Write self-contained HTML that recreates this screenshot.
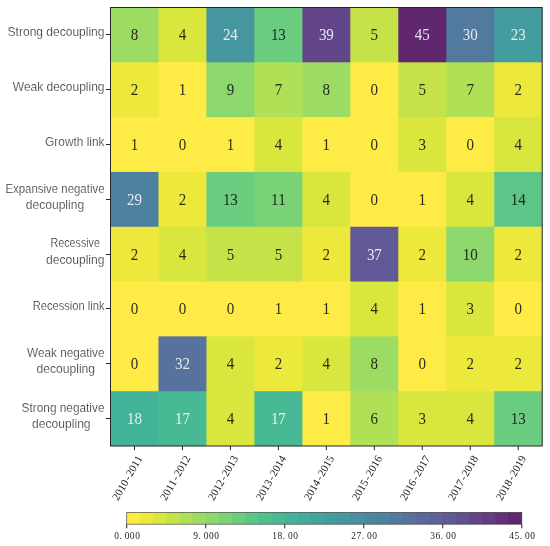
<!DOCTYPE html><html><head><meta charset="utf-8"><title>Heatmap</title><style>html,body{margin:0;padding:0;background:#fff}svg{display:block}.n{font-family:"Liberation Serif",serif;font-size:16.5px;fill-opacity:.9}.t{font-family:"Liberation Serif",serif;font-size:11px;fill:#222}.y{font-family:"Liberation Sans",sans-serif;font-size:13px;fill:#2b2b2b;stroke:#fff;stroke-width:.24px}</style></head><body>
<svg width="550" height="546" viewBox="0 0 550 546">
<rect width="550" height="546" fill="#fff"/>
<g>
<rect x="110.50" y="7.50" width="48.97" height="55.81" fill="#9cdc62"/>
<rect x="158.47" y="7.50" width="48.97" height="55.81" fill="#d9e63d"/>
<rect x="206.43" y="7.50" width="48.97" height="55.81" fill="#46969f"/>
<rect x="254.40" y="7.50" width="48.97" height="55.81" fill="#6acd80"/>
<rect x="302.37" y="7.50" width="48.97" height="55.81" fill="#63468a"/>
<rect x="350.33" y="7.50" width="48.97" height="55.81" fill="#c5e348"/>
<rect x="398.30" y="7.50" width="48.97" height="55.81" fill="#60276e"/>
<rect x="446.27" y="7.50" width="48.97" height="55.81" fill="#52799e"/>
<rect x="494.23" y="7.50" width="47.97" height="55.81" fill="#439d9e"/>
<rect x="110.50" y="62.31" width="48.97" height="55.81" fill="#ede83c"/>
<rect x="158.47" y="62.31" width="48.97" height="55.81" fill="#feeb45"/>
<rect x="206.43" y="62.31" width="48.97" height="55.81" fill="#8cd86c"/>
<rect x="254.40" y="62.31" width="48.97" height="55.81" fill="#b0e055"/>
<rect x="302.37" y="62.31" width="48.97" height="55.81" fill="#9cdc62"/>
<rect x="350.33" y="62.31" width="48.97" height="55.81" fill="#feeb45"/>
<rect x="398.30" y="62.31" width="48.97" height="55.81" fill="#c5e348"/>
<rect x="446.27" y="62.31" width="48.97" height="55.81" fill="#b0e055"/>
<rect x="494.23" y="62.31" width="47.97" height="55.81" fill="#ede83c"/>
<rect x="110.50" y="117.12" width="48.97" height="55.81" fill="#feeb45"/>
<rect x="158.47" y="117.12" width="48.97" height="55.81" fill="#feeb45"/>
<rect x="206.43" y="117.12" width="48.97" height="55.81" fill="#feeb45"/>
<rect x="254.40" y="117.12" width="48.97" height="55.81" fill="#d9e63d"/>
<rect x="302.37" y="117.12" width="48.97" height="55.81" fill="#feeb45"/>
<rect x="350.33" y="117.12" width="48.97" height="55.81" fill="#feeb45"/>
<rect x="398.30" y="117.12" width="48.97" height="55.81" fill="#d9e63d"/>
<rect x="446.27" y="117.12" width="48.97" height="55.81" fill="#feeb45"/>
<rect x="494.23" y="117.12" width="47.97" height="55.81" fill="#d9e63d"/>
<rect x="110.50" y="171.94" width="48.97" height="55.81" fill="#4e819f"/>
<rect x="158.47" y="171.94" width="48.97" height="55.81" fill="#ede83c"/>
<rect x="206.43" y="171.94" width="48.97" height="55.81" fill="#6acd80"/>
<rect x="254.40" y="171.94" width="48.97" height="55.81" fill="#7ad277"/>
<rect x="302.37" y="171.94" width="48.97" height="55.81" fill="#d9e63d"/>
<rect x="350.33" y="171.94" width="48.97" height="55.81" fill="#feeb45"/>
<rect x="398.30" y="171.94" width="48.97" height="55.81" fill="#feeb45"/>
<rect x="446.27" y="171.94" width="48.97" height="55.81" fill="#d9e63d"/>
<rect x="494.23" y="171.94" width="47.97" height="55.81" fill="#5cc688"/>
<rect x="110.50" y="226.75" width="48.97" height="55.81" fill="#ede83c"/>
<rect x="158.47" y="226.75" width="48.97" height="55.81" fill="#d9e63d"/>
<rect x="206.43" y="226.75" width="48.97" height="55.81" fill="#c5e348"/>
<rect x="254.40" y="226.75" width="48.97" height="55.81" fill="#c5e348"/>
<rect x="302.37" y="226.75" width="48.97" height="55.81" fill="#ede83c"/>
<rect x="350.33" y="226.75" width="48.97" height="55.81" fill="#605996"/>
<rect x="398.30" y="226.75" width="48.97" height="55.81" fill="#ede83c"/>
<rect x="446.27" y="226.75" width="48.97" height="55.81" fill="#8cd86c"/>
<rect x="494.23" y="226.75" width="47.97" height="55.81" fill="#ede83c"/>
<rect x="110.50" y="281.56" width="48.97" height="55.81" fill="#feeb45"/>
<rect x="158.47" y="281.56" width="48.97" height="55.81" fill="#feeb45"/>
<rect x="206.43" y="281.56" width="48.97" height="55.81" fill="#feeb45"/>
<rect x="254.40" y="281.56" width="48.97" height="55.81" fill="#feeb45"/>
<rect x="302.37" y="281.56" width="48.97" height="55.81" fill="#feeb45"/>
<rect x="350.33" y="281.56" width="48.97" height="55.81" fill="#d9e63d"/>
<rect x="398.30" y="281.56" width="48.97" height="55.81" fill="#feeb45"/>
<rect x="446.27" y="281.56" width="48.97" height="55.81" fill="#d9e63d"/>
<rect x="494.23" y="281.56" width="47.97" height="55.81" fill="#feeb45"/>
<rect x="110.50" y="336.38" width="48.97" height="55.81" fill="#feeb45"/>
<rect x="158.47" y="336.38" width="48.97" height="55.81" fill="#56729d"/>
<rect x="206.43" y="336.38" width="48.97" height="55.81" fill="#d9e63d"/>
<rect x="254.40" y="336.38" width="48.97" height="55.81" fill="#ede83c"/>
<rect x="302.37" y="336.38" width="48.97" height="55.81" fill="#d9e63d"/>
<rect x="350.33" y="336.38" width="48.97" height="55.81" fill="#9cdc62"/>
<rect x="398.30" y="336.38" width="48.97" height="55.81" fill="#feeb45"/>
<rect x="446.27" y="336.38" width="48.97" height="55.81" fill="#ede83c"/>
<rect x="494.23" y="336.38" width="47.97" height="55.81" fill="#ede83c"/>
<rect x="110.50" y="391.19" width="48.97" height="54.81" fill="#42b398"/>
<rect x="158.47" y="391.19" width="48.97" height="54.81" fill="#47b994"/>
<rect x="206.43" y="391.19" width="48.97" height="54.81" fill="#d9e63d"/>
<rect x="254.40" y="391.19" width="48.97" height="54.81" fill="#47b994"/>
<rect x="302.37" y="391.19" width="48.97" height="54.81" fill="#feeb45"/>
<rect x="350.33" y="391.19" width="48.97" height="54.81" fill="#b0e055"/>
<rect x="398.30" y="391.19" width="48.97" height="54.81" fill="#d9e63d"/>
<rect x="446.27" y="391.19" width="48.97" height="54.81" fill="#d9e63d"/>
<rect x="494.23" y="391.19" width="47.97" height="54.81" fill="#6acd80"/>
</g>
<rect x="110.50" y="7.50" width="431.70" height="438.50" fill="none" stroke="#262626" stroke-width="1"/>
<text class="n" transform="translate(134.18,40) scale(0.91,1)" x="-3.79" y="0" fill="#141414">8</text>
<text class="n" transform="translate(182.15,40) scale(0.91,1)" x="-3.79" y="0" fill="#141414">4</text>
<text class="n" transform="translate(230.12,40) scale(0.91,1)" x="-7.86 0.27" y="0" fill="#f4f7fa">24</text>
<text class="n" transform="translate(278.08,40) scale(0.91,1)" x="-7.86 0.27" y="0" fill="#141414">13</text>
<text class="n" transform="translate(326.05,40) scale(0.91,1)" x="-7.86 0.27" y="0" fill="#f4f7fa">39</text>
<text class="n" transform="translate(374.02,40) scale(0.91,1)" x="-3.79" y="0" fill="#141414">5</text>
<text class="n" transform="translate(421.98,40) scale(0.91,1)" x="-7.86 0.27" y="0" fill="#f4f7fa">45</text>
<text class="n" transform="translate(469.95,40) scale(0.91,1)" x="-7.86 0.27" y="0" fill="#f4f7fa">30</text>
<text class="n" transform="translate(517.92,40) scale(0.91,1)" x="-7.86 0.27" y="0" fill="#f4f7fa">23</text>
<text class="n" transform="translate(134.18,95) scale(0.91,1)" x="-3.79" y="0" fill="#141414">2</text>
<text class="n" transform="translate(182.15,95) scale(0.91,1)" x="-3.79" y="0" fill="#141414">1</text>
<text class="n" transform="translate(230.12,95) scale(0.91,1)" x="-3.79" y="0" fill="#141414">9</text>
<text class="n" transform="translate(278.08,95) scale(0.91,1)" x="-3.79" y="0" fill="#141414">7</text>
<text class="n" transform="translate(326.05,95) scale(0.91,1)" x="-3.79" y="0" fill="#141414">8</text>
<text class="n" transform="translate(374.02,95) scale(0.91,1)" x="-3.79" y="0" fill="#141414">0</text>
<text class="n" transform="translate(421.98,95) scale(0.91,1)" x="-3.79" y="0" fill="#141414">5</text>
<text class="n" transform="translate(469.95,95) scale(0.91,1)" x="-3.79" y="0" fill="#141414">7</text>
<text class="n" transform="translate(517.92,95) scale(0.91,1)" x="-3.79" y="0" fill="#141414">2</text>
<text class="n" transform="translate(134.18,150) scale(0.91,1)" x="-3.79" y="0" fill="#141414">1</text>
<text class="n" transform="translate(182.15,150) scale(0.91,1)" x="-3.79" y="0" fill="#141414">0</text>
<text class="n" transform="translate(230.12,150) scale(0.91,1)" x="-3.79" y="0" fill="#141414">1</text>
<text class="n" transform="translate(278.08,150) scale(0.91,1)" x="-3.79" y="0" fill="#141414">4</text>
<text class="n" transform="translate(326.05,150) scale(0.91,1)" x="-3.79" y="0" fill="#141414">1</text>
<text class="n" transform="translate(374.02,150) scale(0.91,1)" x="-3.79" y="0" fill="#141414">0</text>
<text class="n" transform="translate(421.98,150) scale(0.91,1)" x="-3.79" y="0" fill="#141414">3</text>
<text class="n" transform="translate(469.95,150) scale(0.91,1)" x="-3.79" y="0" fill="#141414">0</text>
<text class="n" transform="translate(517.92,150) scale(0.91,1)" x="-3.79" y="0" fill="#141414">4</text>
<text class="n" transform="translate(134.18,205) scale(0.91,1)" x="-7.86 0.27" y="0" fill="#f4f7fa">29</text>
<text class="n" transform="translate(182.15,205) scale(0.91,1)" x="-3.79" y="0" fill="#141414">2</text>
<text class="n" transform="translate(230.12,205) scale(0.91,1)" x="-7.86 0.27" y="0" fill="#141414">13</text>
<text class="n" transform="translate(278.08,205) scale(0.91,1)" x="-7.86 0.27" y="0" fill="#141414">11</text>
<text class="n" transform="translate(326.05,205) scale(0.91,1)" x="-3.79" y="0" fill="#141414">4</text>
<text class="n" transform="translate(374.02,205) scale(0.91,1)" x="-3.79" y="0" fill="#141414">0</text>
<text class="n" transform="translate(421.98,205) scale(0.91,1)" x="-3.79" y="0" fill="#141414">1</text>
<text class="n" transform="translate(469.95,205) scale(0.91,1)" x="-3.79" y="0" fill="#141414">4</text>
<text class="n" transform="translate(517.92,205) scale(0.91,1)" x="-7.86 0.27" y="0" fill="#141414">14</text>
<text class="n" transform="translate(134.18,260) scale(0.91,1)" x="-3.79" y="0" fill="#141414">2</text>
<text class="n" transform="translate(182.15,260) scale(0.91,1)" x="-3.79" y="0" fill="#141414">4</text>
<text class="n" transform="translate(230.12,260) scale(0.91,1)" x="-3.79" y="0" fill="#141414">5</text>
<text class="n" transform="translate(278.08,260) scale(0.91,1)" x="-3.79" y="0" fill="#141414">5</text>
<text class="n" transform="translate(326.05,260) scale(0.91,1)" x="-3.79" y="0" fill="#141414">2</text>
<text class="n" transform="translate(374.02,260) scale(0.91,1)" x="-7.86 0.27" y="0" fill="#f4f7fa">37</text>
<text class="n" transform="translate(421.98,260) scale(0.91,1)" x="-3.79" y="0" fill="#141414">2</text>
<text class="n" transform="translate(469.95,260) scale(0.91,1)" x="-7.86 0.27" y="0" fill="#141414">10</text>
<text class="n" transform="translate(517.92,260) scale(0.91,1)" x="-3.79" y="0" fill="#141414">2</text>
<text class="n" transform="translate(134.18,314) scale(0.91,1)" x="-3.79" y="0" fill="#141414">0</text>
<text class="n" transform="translate(182.15,314) scale(0.91,1)" x="-3.79" y="0" fill="#141414">0</text>
<text class="n" transform="translate(230.12,314) scale(0.91,1)" x="-3.79" y="0" fill="#141414">0</text>
<text class="n" transform="translate(278.08,314) scale(0.91,1)" x="-3.79" y="0" fill="#141414">1</text>
<text class="n" transform="translate(326.05,314) scale(0.91,1)" x="-3.79" y="0" fill="#141414">1</text>
<text class="n" transform="translate(374.02,314) scale(0.91,1)" x="-3.79" y="0" fill="#141414">4</text>
<text class="n" transform="translate(421.98,314) scale(0.91,1)" x="-3.79" y="0" fill="#141414">1</text>
<text class="n" transform="translate(469.95,314) scale(0.91,1)" x="-3.79" y="0" fill="#141414">3</text>
<text class="n" transform="translate(517.92,314) scale(0.91,1)" x="-3.79" y="0" fill="#141414">0</text>
<text class="n" transform="translate(134.18,369) scale(0.91,1)" x="-3.79" y="0" fill="#141414">0</text>
<text class="n" transform="translate(182.15,369) scale(0.91,1)" x="-7.86 0.27" y="0" fill="#f4f7fa">32</text>
<text class="n" transform="translate(230.12,369) scale(0.91,1)" x="-3.79" y="0" fill="#141414">4</text>
<text class="n" transform="translate(278.08,369) scale(0.91,1)" x="-3.79" y="0" fill="#141414">2</text>
<text class="n" transform="translate(326.05,369) scale(0.91,1)" x="-3.79" y="0" fill="#141414">4</text>
<text class="n" transform="translate(374.02,369) scale(0.91,1)" x="-3.79" y="0" fill="#141414">8</text>
<text class="n" transform="translate(421.98,369) scale(0.91,1)" x="-3.79" y="0" fill="#141414">0</text>
<text class="n" transform="translate(469.95,369) scale(0.91,1)" x="-3.79" y="0" fill="#141414">2</text>
<text class="n" transform="translate(517.92,369) scale(0.91,1)" x="-3.79" y="0" fill="#141414">2</text>
<text class="n" transform="translate(134.18,424) scale(0.91,1)" x="-7.86 0.27" y="0" fill="#f4f7fa">18</text>
<text class="n" transform="translate(182.15,424) scale(0.91,1)" x="-7.86 0.27" y="0" fill="#f4f7fa">17</text>
<text class="n" transform="translate(230.12,424) scale(0.91,1)" x="-3.79" y="0" fill="#141414">4</text>
<text class="n" transform="translate(278.08,424) scale(0.91,1)" x="-7.86 0.27" y="0" fill="#f4f7fa">17</text>
<text class="n" transform="translate(326.05,424) scale(0.91,1)" x="-3.79" y="0" fill="#141414">1</text>
<text class="n" transform="translate(374.02,424) scale(0.91,1)" x="-3.79" y="0" fill="#141414">6</text>
<text class="n" transform="translate(421.98,424) scale(0.91,1)" x="-3.79" y="0" fill="#141414">3</text>
<text class="n" transform="translate(469.95,424) scale(0.91,1)" x="-3.79" y="0" fill="#141414">4</text>
<text class="n" transform="translate(517.92,424) scale(0.91,1)" x="-7.86 0.27" y="0" fill="#141414">13</text>
<line x1="105.90" x2="110.50" y1="34.50" y2="34.50" stroke="#262626" stroke-width="1"/>
<text class="y" x="7.60" y="36.01" textLength="96.9" lengthAdjust="spacingAndGlyphs">Strong decoupling</text>
<line x1="105.90" x2="110.50" y1="89.50" y2="89.50" stroke="#262626" stroke-width="1"/>
<text class="y" x="12.80" y="90.82" textLength="91.7" lengthAdjust="spacingAndGlyphs">Weak decoupling</text>
<line x1="105.90" x2="110.50" y1="144.50" y2="144.50" stroke="#262626" stroke-width="1"/>
<text class="y" x="45.10" y="145.63" textLength="59.4" lengthAdjust="spacingAndGlyphs">Growth link</text>
<line x1="105.90" x2="110.50" y1="199.50" y2="199.50" stroke="#262626" stroke-width="1"/>
<text class="y" x="5.40" y="192.64" textLength="99.1" lengthAdjust="spacingAndGlyphs">Expansive negative</text>
<text class="y" x="25.70" y="209.04" textLength="58.5" lengthAdjust="spacingAndGlyphs">decoupling</text>
<line x1="105.90" x2="110.50" y1="254.50" y2="254.50" stroke="#262626" stroke-width="1"/>
<text class="y" x="50.60" y="247.46" textLength="49.3" lengthAdjust="spacingAndGlyphs">Recessive</text>
<text class="y" x="46.00" y="263.86" textLength="58.5" lengthAdjust="spacingAndGlyphs">decoupling</text>
<line x1="105.90" x2="110.50" y1="308.50" y2="308.50" stroke="#262626" stroke-width="1"/>
<text class="y" x="32.70" y="310.07" textLength="71.8" lengthAdjust="spacingAndGlyphs">Recession link</text>
<line x1="105.90" x2="110.50" y1="363.50" y2="363.50" stroke="#262626" stroke-width="1"/>
<text class="y" x="27.10" y="357.08" textLength="77.4" lengthAdjust="spacingAndGlyphs">Weak negative</text>
<text class="y" x="36.55" y="373.48" textLength="58.5" lengthAdjust="spacingAndGlyphs">decoupling</text>
<line x1="105.90" x2="110.50" y1="418.50" y2="418.50" stroke="#262626" stroke-width="1"/>
<text class="y" x="21.60" y="411.89" textLength="82.9" lengthAdjust="spacingAndGlyphs">Strong negative</text>
<text class="y" x="32.10" y="428.29" textLength="58.5" lengthAdjust="spacingAndGlyphs">decoupling</text>
<line x1="134.48" x2="134.48" y1="446.00" y2="450.20" stroke="#262626" stroke-width="1"/>
<text class="t" transform="translate(142.68,458.30) rotate(-60)" x="-49.50 -44.00 -38.50 -33.00 -26.60 -22.00 -16.50 -11.00 -5.50" y="0">2010-2011</text>
<line x1="182.45" x2="182.45" y1="446.00" y2="450.20" stroke="#262626" stroke-width="1"/>
<text class="t" transform="translate(190.65,458.30) rotate(-60)" x="-49.50 -44.00 -38.50 -33.00 -26.60 -22.00 -16.50 -11.00 -5.50" y="0">2011-2012</text>
<line x1="230.42" x2="230.42" y1="446.00" y2="450.20" stroke="#262626" stroke-width="1"/>
<text class="t" transform="translate(238.62,458.30) rotate(-60)" x="-49.50 -44.00 -38.50 -33.00 -26.60 -22.00 -16.50 -11.00 -5.50" y="0">2012-2013</text>
<line x1="278.38" x2="278.38" y1="446.00" y2="450.20" stroke="#262626" stroke-width="1"/>
<text class="t" transform="translate(286.58,458.30) rotate(-60)" x="-49.50 -44.00 -38.50 -33.00 -26.60 -22.00 -16.50 -11.00 -5.50" y="0">2013-2014</text>
<line x1="326.35" x2="326.35" y1="446.00" y2="450.20" stroke="#262626" stroke-width="1"/>
<text class="t" transform="translate(334.55,458.30) rotate(-60)" x="-49.50 -44.00 -38.50 -33.00 -26.60 -22.00 -16.50 -11.00 -5.50" y="0">2014-2015</text>
<line x1="374.32" x2="374.32" y1="446.00" y2="450.20" stroke="#262626" stroke-width="1"/>
<text class="t" transform="translate(382.52,458.30) rotate(-60)" x="-49.50 -44.00 -38.50 -33.00 -26.60 -22.00 -16.50 -11.00 -5.50" y="0">2015-2016</text>
<line x1="422.28" x2="422.28" y1="446.00" y2="450.20" stroke="#262626" stroke-width="1"/>
<text class="t" transform="translate(430.48,458.30) rotate(-60)" x="-49.50 -44.00 -38.50 -33.00 -26.60 -22.00 -16.50 -11.00 -5.50" y="0">2016-2017</text>
<line x1="470.25" x2="470.25" y1="446.00" y2="450.20" stroke="#262626" stroke-width="1"/>
<text class="t" transform="translate(478.45,458.30) rotate(-60)" x="-49.50 -44.00 -38.50 -33.00 -26.60 -22.00 -16.50 -11.00 -5.50" y="0">2017-2018</text>
<line x1="518.22" x2="518.22" y1="446.00" y2="450.20" stroke="#262626" stroke-width="1"/>
<text class="t" transform="translate(526.42,458.30) rotate(-60)" x="-49.50 -44.00 -38.50 -33.00 -26.60 -22.00 -16.50 -11.00 -5.50" y="0">2018-2019</text>
<g>
<rect x="126.70" y="512.4" width="14.17" height="11.80" fill="#feeb45"/>
<rect x="139.87" y="512.4" width="14.17" height="11.80" fill="#ede83c"/>
<rect x="153.04" y="512.4" width="14.17" height="11.80" fill="#d9e63d"/>
<rect x="166.21" y="512.4" width="14.17" height="11.80" fill="#c5e348"/>
<rect x="179.38" y="512.4" width="14.17" height="11.80" fill="#b0e055"/>
<rect x="192.55" y="512.4" width="14.17" height="11.80" fill="#9cdc62"/>
<rect x="205.72" y="512.4" width="14.17" height="11.80" fill="#8cd86c"/>
<rect x="218.89" y="512.4" width="14.17" height="11.80" fill="#7ad277"/>
<rect x="232.06" y="512.4" width="14.17" height="11.80" fill="#6acd80"/>
<rect x="245.23" y="512.4" width="14.17" height="11.80" fill="#5cc688"/>
<rect x="258.40" y="512.4" width="14.17" height="11.80" fill="#50c08f"/>
<rect x="271.57" y="512.4" width="14.17" height="11.80" fill="#47b994"/>
<rect x="284.74" y="512.4" width="14.17" height="11.80" fill="#42b398"/>
<rect x="297.91" y="512.4" width="14.17" height="11.80" fill="#40ac9b"/>
<rect x="311.08" y="512.4" width="14.17" height="11.80" fill="#41a49d"/>
<rect x="324.25" y="512.4" width="14.17" height="11.80" fill="#439d9e"/>
<rect x="337.42" y="512.4" width="14.17" height="11.80" fill="#46969f"/>
<rect x="350.59" y="512.4" width="14.17" height="11.80" fill="#498f9f"/>
<rect x="363.76" y="512.4" width="14.17" height="11.80" fill="#4b889f"/>
<rect x="376.93" y="512.4" width="14.17" height="11.80" fill="#4e819f"/>
<rect x="390.10" y="512.4" width="14.17" height="11.80" fill="#52799e"/>
<rect x="403.27" y="512.4" width="14.17" height="11.80" fill="#56729d"/>
<rect x="416.44" y="512.4" width="14.17" height="11.80" fill="#59699c"/>
<rect x="429.61" y="512.4" width="14.17" height="11.80" fill="#5d6199"/>
<rect x="442.78" y="512.4" width="14.17" height="11.80" fill="#605996"/>
<rect x="455.95" y="512.4" width="14.17" height="11.80" fill="#624f91"/>
<rect x="469.12" y="512.4" width="14.17" height="11.80" fill="#63468a"/>
<rect x="482.29" y="512.4" width="14.17" height="11.80" fill="#643c82"/>
<rect x="495.46" y="512.4" width="14.17" height="11.80" fill="#623178"/>
<rect x="508.63" y="512.4" width="13.17" height="11.80" fill="#60276e"/>
</g>
<rect x="126.7" y="512.4" width="395.10" height="11.80" fill="none" stroke="#262626" stroke-width="0.7" stroke-opacity=".8"/>
<line x1="126.70" x2="126.70" y1="524.2" y2="528.30" stroke="#262626" stroke-width="1"/>
<text class="t" transform="translate(127.00,539) scale(0.86,1)" x="-14.96 -8.85 -2.75 3.35 9.46" y="0">0.000</text>
<line x1="205.72" x2="205.72" y1="524.2" y2="528.30" stroke="#262626" stroke-width="1"/>
<text class="t" transform="translate(206.02,539) scale(0.86,1)" x="-14.96 -8.85 -2.75 3.35 9.46" y="0">9.000</text>
<line x1="284.74" x2="284.74" y1="524.2" y2="528.30" stroke="#262626" stroke-width="1"/>
<text class="t" transform="translate(285.04,539) scale(0.86,1)" x="-14.96 -8.85 -2.75 3.35 9.46" y="0">18.00</text>
<line x1="363.76" x2="363.76" y1="524.2" y2="528.30" stroke="#262626" stroke-width="1"/>
<text class="t" transform="translate(364.06,539) scale(0.86,1)" x="-14.96 -8.85 -2.75 3.35 9.46" y="0">27.00</text>
<line x1="442.78" x2="442.78" y1="524.2" y2="528.30" stroke="#262626" stroke-width="1"/>
<text class="t" transform="translate(443.08,539) scale(0.86,1)" x="-14.96 -8.85 -2.75 3.35 9.46" y="0">36.00</text>
<line x1="521.80" x2="521.80" y1="524.2" y2="528.30" stroke="#262626" stroke-width="1"/>
<text class="t" transform="translate(522.10,539) scale(0.86,1)" x="-14.96 -8.85 -2.75 3.35 9.46" y="0">45.00</text>
</svg></body></html>
